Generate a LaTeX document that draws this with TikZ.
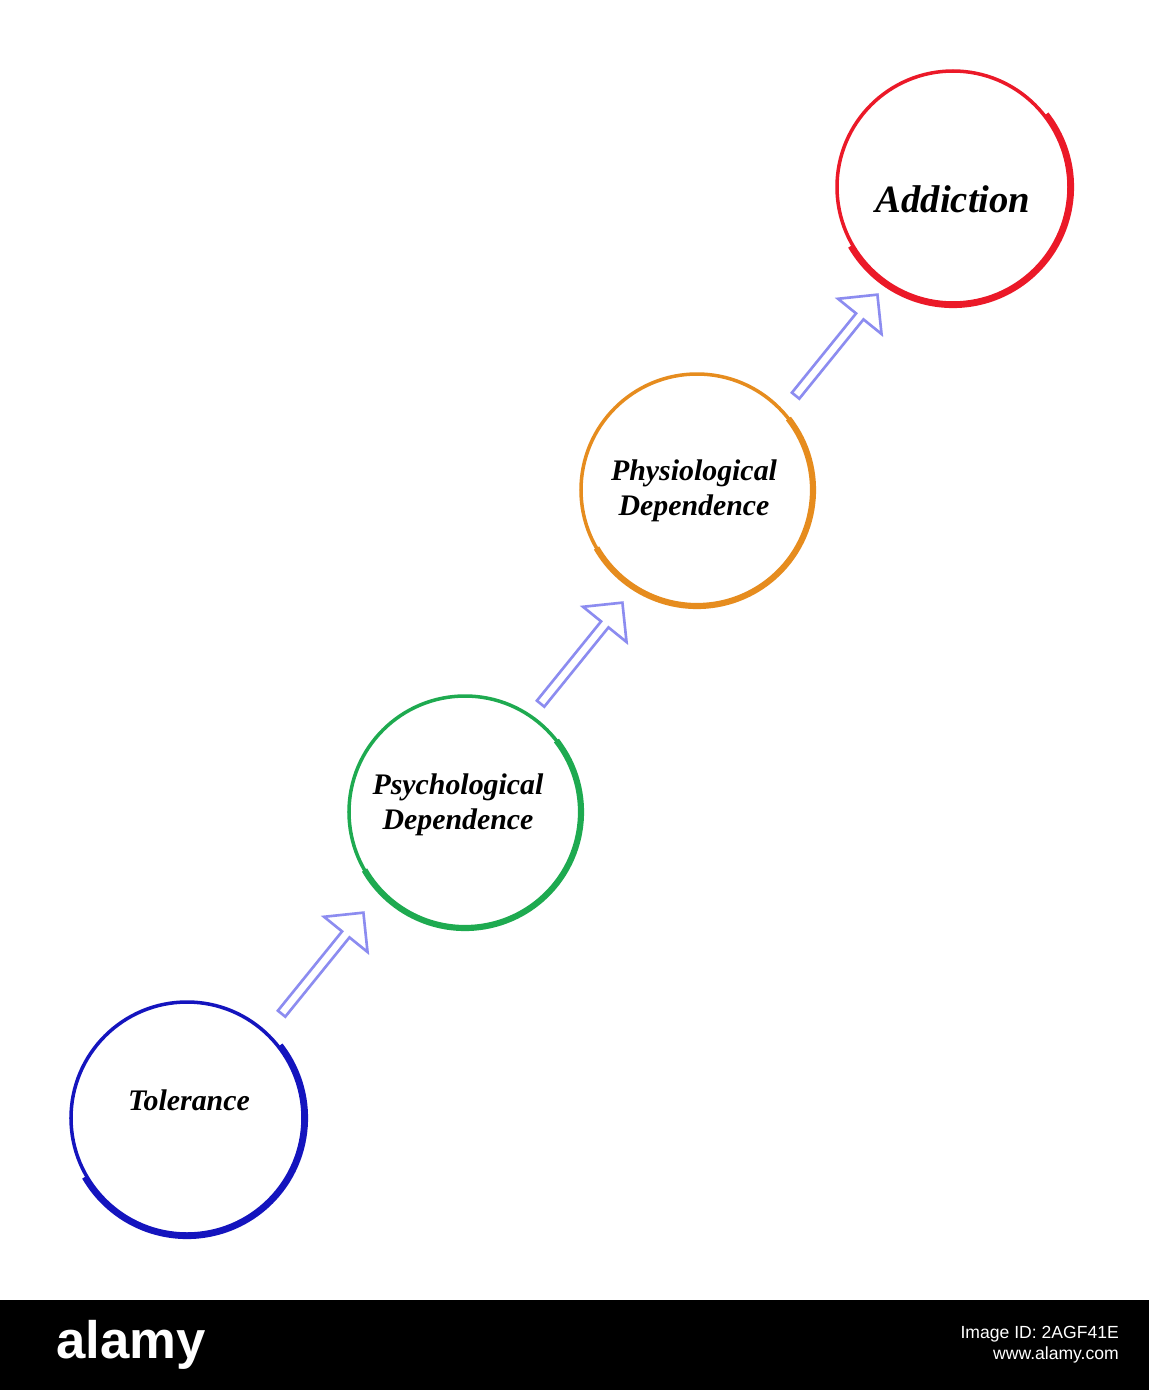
\documentclass[tikz,border=0pt]{standalone}
\usepackage{fontspec}
\setmainfont{Liberation Serif}
\newfontfamily\barfont{Liberation Sans}
\usetikzlibrary{shapes.arrows}
\definecolor{stepblue}{RGB}{20,20,190}
\definecolor{stepgreen}{RGB}{30,170,80}
\definecolor{steporange}{RGB}{230,140,30}
\definecolor{stepred}{RGB}{235,25,40}
\definecolor{arrowblue}{RGB}{140,140,240}
\tikzset{
  stage/.style={circle,minimum size=232*0.02cm,line width=2pt},
  caption/.style={font=\bfseries\itshape\fontsize{17}{20}\selectfont,align=center},
  pointer/.style={single arrow,draw=arrowblue,line width=1.5pt,fill=white,minimum height=130*0.02cm,minimum width=56*0.02cm,single arrow head extend=0.3cm,inner sep=1pt}
}
\begin{document}
\begin{tikzpicture}[x=0.02cm,y=-0.02cm]
  \useasboundingbox (0,0) rectangle (1149,1390);
  \fill[white] (0,0) rectangle (1149,1300);
  \fill[black] (0,1300) rectangle (1149,1390);

  \node[stage,draw=stepblue] (T) at (187,1118) {};
  \node[stage,draw=stepgreen] (S) at (465,812) {};
  \node[stage,draw=steporange] (P) at (697,490) {};
  \node[stage,draw=stepred] (A) at (953,187) {};

  \node[caption] (Tt) at (189,1100) {Tolerance};
  \node[caption] (St) at (458,805) {Psychological\\Dependence};
  \node[caption] (Pt) at (694,491) {Physiological\\Dependence};
  \node[caption,font=\bfseries\itshape\fontsize{22}{24}\selectfont] (At) at (953,199) {Addiction};

  \draw[stepblue,line width=3.5pt] (T) ++(-38:118) arc (-38:150:118);
  \draw[stepgreen,line width=3.5pt] (S) ++(-38:116) arc (-38:150:116);
  \draw[steporange,line width=3.5pt] (P) ++(-38:116) arc (-38:150:116);
  \draw[stepred,line width=3.5pt] (A) ++(-38:118) arc (-38:150:118);

  \node[pointer,rotate=51] (a1) at (321,965) {};
  \node[pointer,rotate=51] (a2) at (580,655) {};
  \node[pointer,rotate=51] (a3) at (835,347) {};

  \node[white,font=\barfont\bfseries\fontsize{30}{30}\selectfont,anchor=west] (logo) at (50,1345) {alamy};
  \node[white,font=\barfont\fontsize{10}{12}\selectfont,anchor=east,align=right] (id) at (1125,1345) {Image ID: 2AGF41E\\www.alamy.com};
\end{tikzpicture}
\end{document}
